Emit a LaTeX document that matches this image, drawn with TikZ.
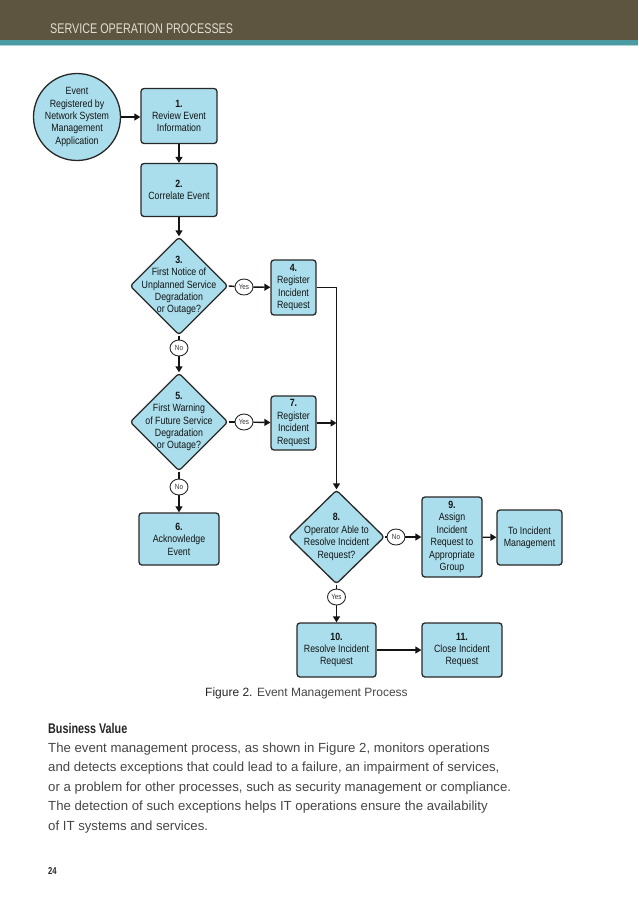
\documentclass[tikz,border=0pt]{standalone}
\usepackage{fontspec}
\setmainfont{Liberation Sans}
\newfontfamily\condf[FakeStretch=0.84]{Liberation Sans}
\newfontfamily\narrowf[FakeStretch=0.77]{Liberation Sans}
\usetikzlibrary{shapes.geometric,arrows.meta}
\definecolor{hdrbrown}{RGB}{94,85,65}
\definecolor{hdrteal}{RGB}{76,154,162}
\definecolor{hdrtext}{RGB}{226,222,210}
\definecolor{boxblue}{RGB}{170,222,236}
\definecolor{edgegray}{RGB}{40,40,40}
\definecolor{bodygray}{RGB}{70,70,70}
\begin{document}
\begin{tikzpicture}[x=1pt,y=-1pt,
  lab/.style={font=\condf\fontsize{10.5}{12.4}\selectfont, text=black!92, align=center, inner sep=0pt},
  proc/.style={lab, draw=edgegray, line width=1.3pt, fill=boxblue, rounded corners=3pt},
  dia/.style={diamond, draw=edgegray, line width=1.3pt, fill=boxblue, rounded corners=3pt, inner sep=0pt, minimum width=98pt, minimum height=98pt},
  startc/.style={lab, circle, draw=edgegray, line width=1.3pt, fill=boxblue, minimum size=78pt},
  yn/.style={ellipse, draw=edgegray, line width=0.9pt, fill=white, inner sep=0pt, minimum width=18pt, minimum height=16pt, font=\condf\fontsize{7.5}{8}\selectfont, text=black!80},
  ln/.style={draw=black!92, line width=1.4pt},
  arr/.style={ln, -{Triangle[length=6pt,width=7pt]}},
  body/.style={anchor=base west, inner sep=0pt, font=\fontsize{13.2}{16}\selectfont, text=bodygray}
]
\useasboundingbox (0,0) rectangle (638,903);
\fill[white] (0,0) rectangle (638,903);
% header
\fill[hdrbrown] (0,0) rectangle (638,40);
\fill[hdrteal] (0,40) rectangle (638,45);
\fill[hdrteal!45] (0,45) rectangle (638,46);
\node[anchor=base west, inner sep=0pt, text=hdrtext, font=\narrowf\fontsize{14}{16}\selectfont] (hdr) at (50,33) {SERVICE OPERATION PROCESSES};

% nodes
\node[startc] (c0) at (77,117) {Event\\Registered by\\Network System\\Management\\Application};
\node[proc, minimum width=76pt, minimum height=55pt] (b1) at (179,116) {\textbf{1.}\\Review Event\\Information};
\node[proc, minimum width=76pt, minimum height=53pt] (b2) at (179,190) {\textbf{2.}\\Correlate Event};
\node[dia] (d3) at (179,286) {};
\node[lab] (t3) at (179,285.5) {\textbf{3.}\\First Notice of\\Unplanned Service\\Degradation\\or Outage?};
\node[yn] (y3) at (244,287) {Yes};
\node[proc, minimum width=45pt, minimum height=55pt] (b4) at (293.5,287.5) {\textbf{4.}\\Register\\Incident\\Request};
\node[yn] (n3) at (179,348) {No};
\node[dia] (d5) at (179,422) {};
\node[lab] (t5) at (179,421.5) {\textbf{5.}\\First Warning\\of Future Service\\Degradation\\or Outage?};
\node[yn] (y5) at (244,422) {Yes};
\node[proc, minimum width=45pt, minimum height=54pt] (b7) at (293.5,423) {\textbf{7.}\\Register\\Incident\\Request};
\node[yn] (n5) at (179,487) {No};
\node[proc, minimum width=80pt, minimum height=52pt] (b6) at (179,539) {\textbf{6.}\\Acknowledge\\Event};
\node[dia, minimum width=96pt, minimum height=94pt] (d8) at (336.5,537) {};
\node[lab] (t8) at (336.5,537) {\textbf{8.}\\Operator Able to\\Resolve Incident\\Request?};
\node[yn] (n8) at (396,537) {No};
\node[proc, minimum width=60pt, minimum height=80pt] (b9) at (452,537) {\textbf{9.}\\Assign\\Incident\\Request to\\Appropriate\\Group};
\node[proc, minimum width=65pt, minimum height=55pt] (bim) at (529.5,537.5) {To Incident\\Management};
\node[yn] (y8) at (336.5,597) {Yes};
\node[proc, minimum width=79pt, minimum height=54pt] (b10) at (336.5,650) {\textbf{10.}\\Resolve Incident\\Request};
\node[proc, minimum width=80pt, minimum height=54pt] (b11) at (462,650) {\textbf{11.}\\Close Incident\\Request};

% connectors
\draw[arr] (c0.east) -- (b1.west |- c0.east);
\draw[arr] (b1) -- (b2);
\draw[arr] (b2) -- (d3);
\draw[ln] (d3.east) -- (y3);
\draw[arr] (y3) -- (b4);
\draw[ln] (d3.south) -- (n3);
\draw[arr] (n3) -- (d5);
\draw[ln] (d5.east) -- (y5);
\draw[arr] (y5) -- (b7);
\draw[ln] (d5.south) -- (n5);
\draw[arr] (n5) -- (b6);
\draw[arr] (b4.east) -| (d8.north);
\draw[arr] (b7.east) -- (b7.east -| d8.north);
\draw[ln] (d8.east) -- (n8);
\draw[arr] (n8) -- (b9);
\draw[arr] (b9) -- (bim);
\draw[ln] (d8.south) -- (y8);
\draw[arr] (y8) -- (b10);
\draw[arr] (b10) -- (b11);

% caption and text
\node[anchor=base, inner sep=0pt, font=\fontsize{12}{14}\selectfont, text=bodygray] (cap) at (306.5,696) {{\color{black!85}Figure 2.} Event Management Process};
\node[anchor=base west, inner sep=0pt, font=\narrowf\bfseries\fontsize{14}{16}\selectfont, text=black!85] (bv) at (48,733) {Business Value};
\node[body] (l1) at (48,752) {The event management process, as shown in Figure 2, monitors operations};
\node[body] (l2) at (48,771.6) {and detects exceptions that could lead to a failure, an impairment of services,};
\node[body] (l3) at (48,791.2) {or a problem for other processes, such as security management or compliance.};
\node[body] (l4) at (48,810.8) {The detection of such exceptions helps IT operations ensure the availability};
\node[body] (l5) at (48,830.4) {of IT systems and services.};
\node[anchor=base west, inner sep=0pt, font=\narrowf\bfseries\fontsize{10}{11}\selectfont, text=black!85] (pg) at (48,874) {24};
\end{tikzpicture}
\end{document}
